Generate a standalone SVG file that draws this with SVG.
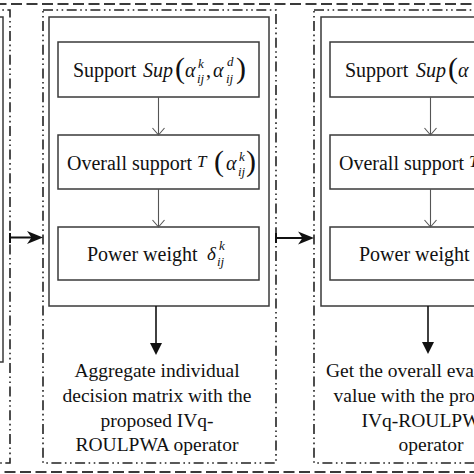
<svg xmlns="http://www.w3.org/2000/svg" width="474" height="474" viewBox="0 0 474 474">
<style>
  .outer{fill:none;stroke:#3a3a3a;stroke-width:2;stroke-dasharray:11 4.5}
  .panel{fill:none;stroke:#222;stroke-width:1.6;stroke-dasharray:10 3.5 1.6 3.5 1.6 3.5}
  .box{fill:#fff;stroke:#3a3a3a;stroke-width:1.5}
  .t{font-family:"Liberation Serif","Times New Roman",serif;fill:#111;font-size:20px}
  .i{font-style:italic}
  .sm{font-size:13px}
  .par{font-size:30px;font-weight:normal}
  .cap{font-family:"Liberation Serif","Times New Roman",serif;fill:#111;font-size:19.5px;text-anchor:middle}
  .thin{fill:none;stroke:#555;stroke-width:1.1}
  .thick{fill:none;stroke:#111;stroke-width:2}
</style>

<!-- outer dashed frame -->
<rect class="outer" x="-20" y="4" width="520" height="468"/>

<!-- panel frames -->
<g id="panel1">
  <rect class="panel" x="-40" y="10" width="50" height="453"/>
  <rect class="box" x="-40" y="17" width="43" height="345"/>
</g>

<g id="panel2">
  <rect class="panel" x="43" y="10" width="233" height="453"/>
  <rect class="box" x="49" y="17" width="220" height="289"/>
  <g id="p2-support">
    <rect class="box" x="58" y="42" width="201" height="55"/>
    <text class="t" x="73" y="77">Support</text>
    <text class="t i" x="143" y="77">Sup</text>
    <text class="t par" x="175" y="78">(</text>
    <text class="t i" x="185" y="77">α</text>
    <text class="t i sm" x="198" y="68">k</text>
    <text class="t i sm" x="197" y="83">ij</text>
    <text class="t" x="206" y="77">,</text>
    <text class="t i" x="213" y="77">α</text>
    <text class="t i sm" x="227" y="66">d</text>
    <text class="t i sm" x="226" y="83">ij</text>
    <text class="t par" x="236" y="78">)</text>
  </g>
  <g id="p2-overall">
    <rect class="box" x="58" y="135" width="201" height="54"/>
    <text class="t" x="67" y="170">Overall support</text>
    <text class="t i" x="197" y="167" style="font-size:17px">T</text>
    <text class="t par" x="214" y="171">(</text>
    <text class="t i" x="226" y="170">α</text>
    <text class="t i sm" x="239" y="161">k</text>
    <text class="t i sm" x="238" y="176">ij</text>
    <text class="t par" x="246" y="171">)</text>
  </g>
  <g id="p2-power">
    <rect class="box" x="58" y="227" width="201" height="53"/>
    <text class="t" x="87" y="261">Power weight</text>
    <text class="t i" x="207" y="260" style="font-size:19px">δ</text>
    <text class="t i sm" x="219" y="250">k</text>
    <text class="t i sm" x="217" y="266">ij</text>
  </g>
  <g id="p2-result">
    <text class="cap" x="157" y="377">Aggregate individual</text>
    <text class="cap" x="157" y="402">decision matrix with the</text>
    <text class="cap" x="157" y="427">proposed IVq-</text>
    <text class="cap" x="157" y="451">ROULPWA operator</text>
  </g>
</g>

<g id="panel3">
  <rect class="panel" x="314" y="10" width="233" height="453"/>
  <rect class="box" x="321" y="17" width="220" height="289"/>
  <g id="p3-support">
    <rect class="box" x="330" y="42" width="201" height="55"/>
    <text class="t" x="345" y="77">Support</text>
    <text class="t i" x="416" y="77">Sup</text>
    <text class="t par" x="448" y="78">(</text>
    <text class="t i" x="458" y="77">α</text>
  </g>
  <g id="p3-overall">
    <rect class="box" x="330" y="135" width="201" height="54"/>
    <text class="t" x="339" y="170">Overall support</text>
    <text class="t i" x="469" y="167" style="font-size:17px">T</text>
  </g>
  <g id="p3-power">
    <rect class="box" x="330" y="227" width="201" height="53"/>
    <text class="t" x="359" y="261">Power weight</text>
  </g>
  <g id="p3-result">
    <text class="cap" x="427" y="377">Get the overall evaluation</text>
    <text class="cap" x="427" y="402">value with the proposed</text>
    <text class="cap" x="427" y="427">IVq-ROULPWA</text>
    <text class="cap" x="431" y="451">operator</text>
  </g>
</g>

<g id="connectors">
  <!-- thin arrows panel 2 -->
  <path class="thin" d="M158.5 97V135M152.5 128L158.5 135L164.5 128"/>
  <path class="thin" d="M158.5 189V227M152.5 220L158.5 227L164.5 220"/>
  <!-- thin arrows panel 3 -->
  <path class="thin" d="M430.5 97V135M424.5 128L430.5 135L436.5 128"/>
  <path class="thin" d="M430.5 189V227M424.5 220L430.5 227L436.5 220"/>
  <!-- down arrows to result -->
  <path class="thick" d="M156 306V345" style="stroke-width:1.6"/>
  <path d="M150 343L162 343L156 355Z" fill="#111"/>
  <path class="thick" d="M428 306V344" style="stroke-width:1.6"/>
  <path d="M422 342L434 342L428 354Z" fill="#111"/>
  <!-- horizontal arrows between panels -->
  <path class="thick" d="M10 237.5H33M10 233V243"/>
  <path d="M43 237.5L27 231L31.5 237.5L27 244Z" fill="#111"/>
  <path class="thick" d="M276 238H303M276 233V243"/>
  <path d="M314 238L298 231.5L302.5 238L298 244.5Z" fill="#111"/>
</g>
</svg>
